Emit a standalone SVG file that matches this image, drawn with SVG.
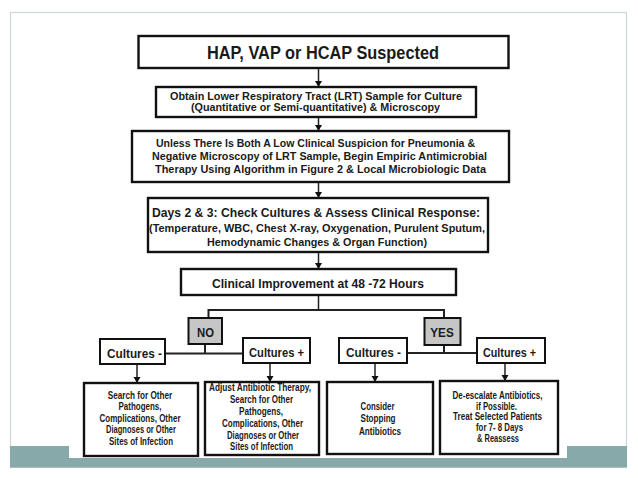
<svg xmlns="http://www.w3.org/2000/svg" width="638" height="478" viewBox="0 0 638 478">
<style>
.bx{fill:#fff;stroke:#111;stroke-width:2.4}
.sm{fill:#fff;stroke:#111;stroke-width:2}
.gy{fill:#c6c6c6;stroke:#111;stroke-width:2}
.t{font-family:"Liberation Sans",Arial,sans-serif;font-weight:bold;fill:#1a1a1a;text-anchor:middle}
.ln{stroke:#222;stroke-width:1.5;fill:none}
.lk{stroke:#222;stroke-width:2;fill:none}
</style>
<defs>
<marker id="ar" markerUnits="userSpaceOnUse" markerWidth="7" markerHeight="8" refX="6" refY="3.5" orient="auto">
<path d="M0,0 L6,3.5 L0,7 z" fill="#111"/>
</marker>
</defs>
<rect x="0" y="0" width="638" height="478" fill="#fff"/>
<g id="frame">
<rect x="10.5" y="12.5" width="616" height="455" fill="#fff" stroke="#cdd7d7" stroke-width="1.2"/>
<rect x="10" y="446" width="617" height="21.5" fill="#88a9a9"/>
<rect x="69" y="440" width="498" height="18" fill="#fff"/>
</g>
<g id="connectors">
<line class="ln" x1="318.5" y1="68" x2="318.5" y2="87" marker-end="url(#ar)"/>
<line class="ln" x1="318.5" y1="117" x2="318.5" y2="131" marker-end="url(#ar)"/>
<line class="ln" x1="318.5" y1="182" x2="318.5" y2="198" marker-end="url(#ar)"/>
<line class="ln" x1="318.5" y1="252" x2="318.5" y2="269" marker-end="url(#ar)"/>
<line class="ln" x1="318.5" y1="295" x2="318.5" y2="310"/>
<polyline class="lk" points="208.5,318 208.5,310 444,310 444,318"/>
<line class="lk" x1="205" y1="344" x2="205" y2="353.5"/>
<line class="lk" x1="165" y1="353.5" x2="243" y2="353.5"/>
<line class="lk" x1="444" y1="345" x2="444" y2="353"/>
<line class="lk" x1="407" y1="353" x2="477" y2="353"/>
<line class="ln" x1="137" y1="364" x2="137" y2="383" marker-end="url(#ar)"/>
<line class="ln" x1="270" y1="363" x2="270" y2="382" marker-end="url(#ar)"/>
<line class="ln" x1="375" y1="363" x2="375" y2="382" marker-end="url(#ar)"/>
<line class="ln" x1="505" y1="363" x2="505" y2="381" marker-end="url(#ar)"/>
</g>
<g id="n-title">
<rect class="bx" x="138.5" y="36" width="370" height="32"/>
<text class="t" x="323" y="58.5" font-size="18" textLength="232" lengthAdjust="spacingAndGlyphs">HAP, VAP or HCAP Suspected</text>
</g>
<g id="n-sample">
<rect class="bx" x="156" y="87" width="320" height="30"/>
<text class="t" x="316" y="99.5" font-size="10.5" textLength="292" lengthAdjust="spacingAndGlyphs">Obtain Lower Respiratory Tract (LRT) Sample for Culture</text>
<text class="t" x="315.5" y="110.5" font-size="10.5" textLength="249" lengthAdjust="spacingAndGlyphs">(Quantitative or Semi-quantitative) &amp; Microscopy</text>
</g>
<g id="n-therapy">
<rect class="bx" x="132" y="131" width="377" height="51"/>
<text class="t" x="315.5" y="147" font-size="11.5" textLength="319" lengthAdjust="spacingAndGlyphs">Unless There Is Both A Low Clinical Suspicion for Pneumonia &amp;</text>
<text class="t" x="319.5" y="160" font-size="11.5" textLength="335" lengthAdjust="spacingAndGlyphs">Negative Microscopy of LRT Sample, Begin Empiric Antimicrobial</text>
<text class="t" x="320.5" y="173" font-size="11.5" textLength="331" lengthAdjust="spacingAndGlyphs">Therapy Using  Algorithm in Figure 2 &amp; Local Microbiologic Data</text>
</g>
<g id="n-days">
<rect class="bx" x="148" y="198" width="340" height="54"/>
<text class="t" x="316" y="216.5" font-size="13" textLength="328" lengthAdjust="spacingAndGlyphs">Days 2 &amp; 3: Check Cultures &amp; Assess Clinical Response:</text>
<text class="t" x="317" y="231.5" font-size="11.5" textLength="336" lengthAdjust="spacingAndGlyphs">(Temperature, WBC, Chest X-ray, Oxygenation, Purulent Sputum,</text>
<text class="t" x="317" y="245.5" font-size="11.5" textLength="220" lengthAdjust="spacingAndGlyphs">Hemodynamic Changes &amp; Organ Function)</text>
</g>
<g id="n-improve">
<rect class="bx" x="181" y="269" width="275" height="26"/>
<text class="t" x="318" y="287.5" font-size="13.5" textLength="212" lengthAdjust="spacingAndGlyphs">Clinical Improvement at 48 -72 Hours</text>
</g>
<g id="n-no">
<rect class="gy" x="188.5" y="318" width="33.5" height="26"/>
<text class="t" x="205.5" y="336.5" font-size="13.5" textLength="17" lengthAdjust="spacingAndGlyphs">NO</text>
</g>
<g id="n-yes">
<rect class="gy" x="424.5" y="318" width="36" height="27"/>
<text class="t" x="442" y="337" font-size="13.5" textLength="23.5" lengthAdjust="spacingAndGlyphs">YES</text>
</g>
<g id="n-cneg1">
<rect class="sm" x="100" y="339" width="65" height="25"/>
<text class="t" x="134.5" y="357.5" font-size="13.5" textLength="55" lengthAdjust="spacingAndGlyphs">Cultures -</text>
</g>
<g id="n-cpos1">
<rect class="sm" x="243" y="338" width="67" height="25"/>
<text class="t" x="276.5" y="356.5" font-size="13.5" textLength="55" lengthAdjust="spacingAndGlyphs">Cultures +</text>
</g>
<g id="n-cneg2">
<rect class="sm" x="339" y="338" width="68" height="25"/>
<text class="t" x="373.5" y="356.5" font-size="13.5" textLength="55" lengthAdjust="spacingAndGlyphs">Cultures  -</text>
</g>
<g id="n-cpos2">
<rect class="sm" x="477" y="338" width="68" height="25"/>
<text class="t" x="509.5" y="356.5" font-size="13.5" textLength="53" lengthAdjust="spacingAndGlyphs">Cultures +</text>
</g>
<g id="n-search">
<rect class="bx" x="84" y="383" width="114" height="73"/>
<text class="t" x="140" y="398.9" font-size="10" textLength="64.5" lengthAdjust="spacingAndGlyphs">Search for Other</text>
<text class="t" x="140" y="410.4" font-size="10" textLength="43" lengthAdjust="spacingAndGlyphs">Pathogens,</text>
<text class="t" x="140" y="421.9" font-size="10" textLength="81" lengthAdjust="spacingAndGlyphs">Complications, Other</text>
<text class="t" x="141" y="433.4" font-size="10" textLength="70" lengthAdjust="spacingAndGlyphs">Diagnoses or Other</text>
<text class="t" x="141" y="444.9" font-size="10" textLength="64" lengthAdjust="spacingAndGlyphs">Sites of Infection</text>
</g>
<g id="n-adjust">
<rect class="bx" x="205" y="382" width="114" height="73"/>
<text class="t" x="260" y="391.4" font-size="10" textLength="102" lengthAdjust="spacingAndGlyphs">Adjust Antibiotic Therapy,</text>
<text class="t" x="261.5" y="403.2" font-size="10" textLength="63" lengthAdjust="spacingAndGlyphs">Search for Other</text>
<text class="t" x="261" y="415" font-size="10" textLength="44" lengthAdjust="spacingAndGlyphs">Pathogens,</text>
<text class="t" x="262.5" y="426.8" font-size="10" textLength="81" lengthAdjust="spacingAndGlyphs">Complications, Other</text>
<text class="t" x="263" y="438.6" font-size="10" textLength="72" lengthAdjust="spacingAndGlyphs">Diagnoses or Other</text>
<text class="t" x="261.5" y="450.4" font-size="10" textLength="63" lengthAdjust="spacingAndGlyphs">Sites of Infection</text>
</g>
<g id="n-stop">
<rect class="bx" x="327" y="382" width="106" height="72"/>
<text class="t" x="377.5" y="410" font-size="10" textLength="34" lengthAdjust="spacingAndGlyphs">Consider</text>
<text class="t" x="378" y="422" font-size="10" textLength="35" lengthAdjust="spacingAndGlyphs">Stopping</text>
<text class="t" x="380" y="434.5" font-size="10" textLength="42" lengthAdjust="spacingAndGlyphs">Antibiotics</text>
</g>
<g id="n-deesc">
<rect class="bx" x="440" y="381" width="118" height="73"/>
<text class="t" x="497.5" y="399.4" font-size="10" textLength="90" lengthAdjust="spacingAndGlyphs">De-escalate Antibiotics,</text>
<text class="t" x="496.5" y="410" font-size="10" textLength="41" lengthAdjust="spacingAndGlyphs">if Possible.</text>
<text class="t" x="497.5" y="420.2" font-size="10" textLength="89" lengthAdjust="spacingAndGlyphs">Treat Selected Patients</text>
<text class="t" x="499.5" y="431" font-size="10" textLength="47" lengthAdjust="spacingAndGlyphs">for 7- 8 Days</text>
<text class="t" x="498" y="441.7" font-size="10" textLength="42" lengthAdjust="spacingAndGlyphs">&amp; Reassess</text>
</g>
</svg>
